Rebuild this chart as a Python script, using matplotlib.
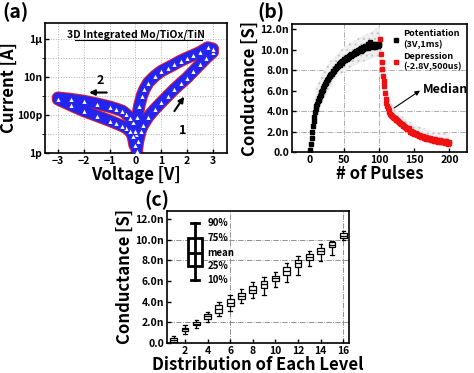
import numpy as np
import matplotlib
matplotlib.use("Agg")
import matplotlib.pyplot as plt
from matplotlib.ticker import FuncFormatter, FixedLocator

plt.rcParams['font.family'] = ['Noto Sans CJK KR', 'DejaVu Sans']
plt.rcParams['font.weight'] = 'bold'
plt.rcParams['axes.linewidth'] = 1.2
plt.rcParams['hatch.linewidth'] = 0.7

# ---- (a) I-V sweeps ----
v_set = [0.05, 0.1, 0.2, 0.3, 0.5, 0.75, 1.0, 1.25, 1.5, 1.75, 2.0, 2.25, 2.5, 2.75, 3.0]
i_set = [1.2e-12, 4e-12, 1.5e-11, 3e-11, 8e-11, 2e-10, 4.5e-10, 1e-9, 2.2e-9, 4.5e-9,
         9e-9, 2e-8, 4.5e-8, 1e-7, 2e-7]
v_back = [3.0, 2.8, 2.5, 2.25, 2.0, 1.75, 1.5, 1.25, 1.0, 0.75, 0.5, 0.35, 0.25, 0.15, 0.08, 0.03]
i_back = [3e-7, 3.5e-7, 2e-7, 1.4e-7, 1e-7, 7e-8, 4.5e-8, 3e-8, 2e-8, 1.1e-8, 5e-9, 2.2e-9,
          1e-9, 3e-10, 8e-11, 1e-11]
v_neg = [-0.03, -0.1, -0.2, -0.35, -0.5, -0.75, -1.0, -1.5, -2.0, -2.5, -3.0]
i_neg_hi = [1.5e-11, 4e-11, 7e-11, 1.1e-10, 1.6e-10, 2.1e-10, 2.7e-10, 3.9e-10, 5.4e-10, 6.8e-10, 8e-10]
i_neg_lo = [2.5e-12, 8e-12, 1.4e-11, 2e-11, 2.6e-11, 3.6e-11, 5e-11, 9e-11, 1.6e-10, 3.2e-10, 6.6e-10]

# ---- (b) potentiation / depression ----
pot = [0.2, 0.8, 1.4, 2.0, 2.5, 3.0, 3.4, 3.9, 4.2, 4.5,
       4.7, 5.0, 5.1, 5.3, 5.5, 5.6, 5.9, 6.0, 6.1, 6.3,
       6.4, 6.6, 6.7, 6.8, 7.0, 7.1, 7.1, 7.3, 7.4, 7.5,
       7.6, 7.6, 7.8, 7.9, 7.9, 8.1, 8.1, 8.2, 8.3, 8.4,
       8.4, 8.6, 8.5, 8.7, 8.8, 8.7, 8.9, 8.9, 9.0, 9.1,
       9.0, 9.2, 9.1, 9.3, 9.2, 9.4, 9.3, 9.5, 9.4, 9.6,
       9.5, 9.6, 9.7, 9.6, 9.8, 9.7, 9.9, 9.8, 10.0, 9.9,
       10.0, 10.1, 9.9, 10.2, 10.0, 10.3, 10.1, 10.2, 10.4, 10.2,
       10.4, 10.3, 10.6, 10.2, 10.5, 10.4, 10.7, 10.3, 10.6, 10.5,
       10.4, 10.6, 10.3, 10.5, 10.6, 10.4, 10.5, 10.4, 10.6, 10.5]
dep = [11.0, 9.6, 8.8, 8.1, 7.4, 6.9, 6.4, 5.8, 5.2, 4.8,
       4.5, 4.3, 4.1, 3.9, 3.7, 3.6, 3.6, 3.5, 3.4, 3.4,
       3.3, 3.3, 3.2, 3.1, 3.1, 3.0, 3.0, 2.9, 2.8, 2.8,
       2.7, 2.7, 2.6, 2.5, 2.5, 2.4, 2.4, 2.3, 2.3, 2.2,
       2.2, 2.3, 2.1, 2.0, 2.1, 2.0, 1.9, 2.0, 1.9, 1.8,
       1.8, 1.9, 1.7, 1.8, 1.7, 1.6, 1.7, 1.6, 1.5, 1.6,
       1.5, 1.6, 1.4, 1.5, 1.4, 1.5, 1.3, 1.4, 1.4, 1.3,
       1.3, 1.4, 1.2, 1.3, 1.2, 1.3, 1.2, 1.1, 1.3, 1.1,
       1.2, 1.1, 1.2, 1.0, 1.1, 1.2, 1.0, 1.1, 1.0, 1.1,
       1.0, 1.1, 0.9, 1.0, 1.1, 0.9, 1.0, 0.8, 1.0, 0.9]
pot_env_x = [0, 2, 5, 10, 15, 20, 30, 40, 50, 60, 75, 90, 100]
pot_low = [0, 0.2, 1.3, 3.3, 4.3, 5.0, 6.3, 7.3, 7.8, 8.3, 8.8, 9.1, 9.3]
pot_high = [0.3, 1.8, 3.8, 6.3, 7.2, 7.9, 8.9, 9.6, 10.3, 10.8, 11.3, 11.8, 12.4]
dep_env_x = [100, 102, 105, 108, 110, 115, 120, 130, 140, 150, 160, 180, 200]
dep_low = [9.0, 7.5, 6.0, 4.8, 4.2, 3.3, 2.9, 2.3, 1.9, 1.5, 1.2, 0.9, 0.6]
dep_high = [12.4, 10.8, 9.0, 7.5, 6.5, 5.0, 4.4, 3.6, 3.1, 2.7, 2.4, 2.0, 1.8]

# ---- (c) distribution of each level (nS) ----
levels = list(range(1, 17))
p10 = [0.0, 0.9, 1.4, 2.0, 2.6, 3.1, 3.9, 4.3, 4.6, 5.4, 5.9, 6.6, 7.4, 7.9, 8.5, 10.0]
p25 = [0.1, 1.15, 1.7, 2.3, 2.9, 3.6, 4.2, 4.8, 5.3, 6.0, 6.6, 7.3, 8.0, 8.6, 9.3, 10.2]
mean_c = [0.3, 1.3, 1.85, 2.55, 3.3, 3.9, 4.5, 5.1, 5.7, 6.25, 7.0, 7.7, 8.3, 8.9, 9.5, 10.4]
p75 = [0.5, 1.45, 2.0, 2.8, 3.7, 4.2, 4.8, 5.5, 6.0, 6.5, 7.3, 8.0, 8.6, 9.2, 9.8, 10.6]
p90 = [0.7, 1.7, 2.2, 3.0, 4.0, 4.6, 5.2, 5.9, 6.4, 6.9, 7.7, 8.4, 8.9, 9.6, 9.9, 10.8]
key_labels = ['90%', '75%', 'mean', '25%', '10%']
key_vals = [11.6, 10.2, 8.7, 7.4, 6.1]


def nano(v, pos):
    if v == 0:
        return '0.0'
    return '%.1fn' % v


def style(ax):
    ax.tick_params(direction='in', length=3, width=1, labelsize=7.5, pad=2)
    for t in ax.get_xticklabels() + ax.get_yticklabels():
        t.set_fontweight('bold')


fig = plt.figure(figsize=(4.74, 3.73), dpi=100)

# (a)
ax1 = fig.add_axes([0.095, 0.590, 0.384, 0.349])
curves = [(v_set, i_set), (v_back, i_back), (v_neg, i_neg_hi), (v_neg, i_neg_lo)]
for v, i in curves:
    ax1.plot(v, i, color='#e0202a', lw=9, solid_capstyle='round', zorder=2)
for v, i in curves:
    ax1.plot(v, i, color='#2424f0', lw=7.5, solid_capstyle='round', zorder=3)
    ax1.plot(v, i, ls='none', marker='^', ms=4, mfc='white', mec='#2424f0', mew=0.8, zorder=4)
ax1.set_yscale('log')
ax1.set_xlim(-3.5, 3.55)
ax1.set_ylim(1e-12, 7e-6)
ax1.yaxis.set_major_locator(FixedLocator([1e-12, 1e-10, 1e-8, 1e-6]))
ax1.yaxis.set_minor_locator(FixedLocator([1e-11, 1e-9, 1e-7, 1e-5]))
ax1.yaxis.set_minor_formatter(FuncFormatter(lambda v, p: ''))
ax1.set_yticklabels(['1p', '100p', '10n', '1\u00b5'])
ax1.set_xticks([-3, -2, -1, 0, 1, 2, 3])
ax1.grid(True, which='both', ls=':', color='#b0b0b0', lw=0.7)
style(ax1)
ax1.set_xlabel('Voltage [V]', fontsize=12, fontweight='bold', labelpad=0)
ax1.set_ylabel('Current [A]', fontsize=12, fontweight='bold')
ax1.yaxis.set_label_coords(-0.15, 0.5)
ax1.text(0.5, 0.89, '3D Integrated Mo/TiOx/TiN', transform=ax1.transAxes, ha='center',
         fontsize=7.5, fontweight='bold')
ax1.plot([0.165, 0.86], [0.865, 0.865], transform=ax1.transAxes, color='k', lw=0.8)
ax1.annotate('', xy=(-1.9, 1.5e-9), xytext=(-1.0, 1.5e-9),
             arrowprops=dict(arrowstyle='-|>', color='k', lw=1.5, mutation_scale=8))
ax1.text(-1.35, 3e-9, '2', fontsize=9, fontweight='bold', ha='center', va='bottom')
ax1.annotate('', xy=(1.95, 1.2e-9), xytext=(1.45, 1.2e-10),
             arrowprops=dict(arrowstyle='-|>', color='k', lw=1.5, mutation_scale=8))
ax1.text(1.85, 1.5e-11, '1', fontsize=9, fontweight='bold', ha='center', va='center')

# (b)
ax2 = fig.add_axes([0.616, 0.5925, 0.369, 0.343])
for ex, lo, hi in [(pot_env_x, pot_low, pot_high), (dep_env_x, dep_low, dep_high)]:
    ax2.fill_between(ex, lo, hi, facecolor='#f0f0f0', edgecolor='#c4c4c4', hatch='...',
                     lw=0, zorder=1)
ax2.plot(np.arange(1, 101), pot, ls='none', marker='s', ms=2.5, color='black', zorder=3,
         label='Potentiation\n(3V,1ms)')
ax2.plot(np.arange(101, 201), dep, ls='none', marker='s', ms=2.5, color='#ee1111', zorder=3,
         label='Depression\n(-2.8V,500us)')
ax2.set_xlim(-25, 225)
ax2.set_ylim(0, 12.5)
ax2.set_xticks([0, 50, 100, 150, 200])
ax2.set_yticks([0, 2, 4, 6, 8, 10, 12])
ax2.yaxis.set_major_formatter(FuncFormatter(nano))
for gx in [50, 100]:
    ax2.axvline(gx, ls='-.', color='#a0a0a0', lw=0.6, zorder=0)
for gy in [2, 4, 8]:
    ax2.axhline(gy, ls='-.', color='#a0a0a0', lw=0.6, zorder=0)
style(ax2)
ax2.set_xlabel('# of Pulses', fontsize=12, fontweight='bold', labelpad=0)
ax2.set_ylabel('Conductance [S]', fontsize=12, fontweight='bold', labelpad=1)
leg = ax2.legend(loc='upper right', fontsize=6.5, frameon=False, handlelength=0.8,
                 handletextpad=0.4, borderaxespad=0.2, labelspacing=0.3)
for t in leg.get_texts():
    t.set_fontweight('bold')
ax2.annotate('', xy=(158, 6.0), xytext=(121, 4.3),
             arrowprops=dict(arrowstyle='-|>', color='k', lw=0.8, mutation_scale=7,
                             shrinkA=0, shrinkB=0))
ax2.text(162, 6.1, 'Median', fontsize=9, fontweight='bold', ha='left', va='center')

# (c)
ax3 = fig.add_axes([0.352, 0.081, 0.384, 0.354])
stats = [dict(whislo=a, q1=b, med=m, q3=c, whishi=d) for a, b, m, c, d in
         zip(p10, p25, mean_c, p75, p90)]
ax3.bxp(stats, positions=levels, widths=0.6, showfliers=False, patch_artist=True,
        boxprops=dict(facecolor='white', edgecolor='black', lw=0.9),
        medianprops=dict(color='black', lw=0.9),
        whiskerprops=dict(color='black', lw=0.9), capprops=dict(color='black', lw=0.9),
        manage_ticks=False)
key = [dict(whislo=key_vals[4], q1=key_vals[3], med=key_vals[2], q3=key_vals[1],
            whishi=key_vals[0])]
ax3.bxp(key, positions=[2.9], widths=1.3, showfliers=False, patch_artist=True,
        boxprops=dict(facecolor='white', edgecolor='black', lw=2),
        medianprops=dict(color='black', lw=2),
        whiskerprops=dict(color='black', lw=2), capprops=dict(color='black', lw=2),
        manage_ticks=False)
ax3.plot([2.9, 2.9], [key_vals[3], key_vals[1]], color='black', lw=2)
for lab, yv in zip(key_labels, key_vals):
    ax3.text(4.0, yv, lab, fontsize=7, fontweight='bold', va='center', ha='left')
ax3.set_xlim(0.4, 16.5)
ax3.set_ylim(0, 12.8)
ax3.set_xticks([2, 4, 6, 8, 10, 12, 14, 16])
ax3.set_yticks([0, 2, 4, 6, 8, 10, 12])
ax3.yaxis.set_major_formatter(FuncFormatter(nano))
for gx in [6, 16]:
    ax3.axvline(gx, ls='-.', color='#808080', lw=0.6, zorder=0)
for gy in [2, 8, 10]:
    ax3.axhline(gy, ls='-.', color='#808080', lw=0.6, zorder=0)
style(ax3)
ax3.set_xlabel('Distribution of Each Level', fontsize=12, fontweight='bold', labelpad=0)
ax3.set_ylabel('Conductance [S]', fontsize=12, fontweight='bold', labelpad=1)

fig.text(0.005, 0.995, '(a)', fontsize=14, fontweight='bold', va='top')
fig.text(0.542, 0.995, '(b)', fontsize=14, fontweight='bold', va='top')
fig.text(0.305, 0.49, '(c)', fontsize=14, fontweight='bold', va='top')

fig.savefig('out.png', dpi=100)
